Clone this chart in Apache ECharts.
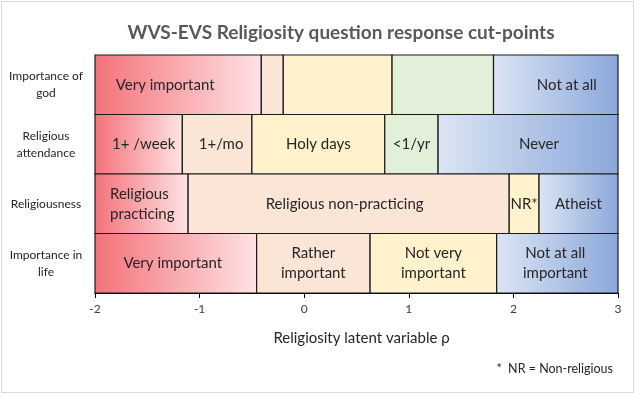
<!DOCTYPE html>
<html>
<head>
<meta charset="utf-8">
<script src="https://cdn.jsdelivr.net/npm/echarts@6/dist/echarts.min.js"></script>
<style>html,body{margin:0;padding:0;background:#fff}#c{width:640px;height:395px}</style>
</head>
<body>
<div id="c"></div>
<script>
// ---- data ----
const rowNames = ['Importance of\ngod', 'Religious\nattendance', 'Religiousness', 'Importance in\nlife'];
const xTicks = [-2, -1, 0, 1, 2, 3];

const cutsGod = [-2, -0.41, -0.20, 0.84, 1.81, 3];
const labelsGod = ['Very important', '', '', '', 'Not at all'];

const cutsAttend = [-2, -1.165, -0.50, 0.77, 1.28, 3];
const labelsAttend = ['1+ /week', '1+/mo', 'Holy days', '<1/yr', 'Never'];

const cutsRelig = [-2, -1.11, 1.96, 2.245, 3];
const labelsRelig = ['Religious\npracticing', 'Religious non-practicing', 'NR*', 'Atheist'];

const cutsLife = [-2, -0.455, 0.63, 1.84, 3];
const labelsLife = ['Very important', 'Rather\nimportant', 'Not very\nimportant', 'Not at all\nimportant'];

// ---- styles (per segment, by row) ----
const fillKinds = [
  ['red', 'peach', 'yellow', 'green', 'blue'],
  ['red', 'peach', 'yellow', 'green', 'blue'],
  ['red', 'peach', 'yellow', 'blue'],
  ['red', 'peach', 'yellow', 'blue']
];
// label horizontal nudge (px) and alignment
const labelDx = [
  [-13, 0, 0, 0, 11],
  [5, 4, 0, 0, 11],
  [15, -4, 0, 0],
  [-3, 0, 0, -2]
];
const labelAlign = [
  ['center', 'center', 'center', 'center', 'center'],
  ['center', 'center', 'center', 'center', 'center'],
  ['left', 'center', 'center', 'center'],
  ['center', 'center', 'center', 'center']
];

const rowsData = [
  [cutsGod, labelsGod],
  [cutsAttend, labelsAttend],
  [cutsRelig, labelsRelig],
  [cutsLife, labelsLife]
];

const segs = [];
rowsData.forEach(function (rd, r) {
  const cuts = rd[0], labels = rd[1];
  for (let i = 0; i < labels.length; i++) {
    segs.push({ value: [cuts[i], cuts[i + 1], r, labels[i]], kind: fillKinds[r][i], dx: labelDx[r][i], al: labelAlign[r][i] });
  }
});
const rowItems = rowNames.map(function (n, i) { return { value: [-2, i, n] }; });

function fillFor(kind) {
  if (kind === 'red') return new echarts.graphic.LinearGradient(0, 0, 1, 0, [
    { offset: 0, color: '#F4727A' }, { offset: 1, color: '#FEE3E4' }]);
  if (kind === 'blue') return new echarts.graphic.LinearGradient(0, 0, 1, 0, [
    { offset: 0, color: '#DCE5F4' }, { offset: 1, color: '#8BA7DA' }]);
  if (kind === 'peach') return '#FBE5D6';
  if (kind === 'yellow') return '#FFF2CC';
  if (kind === 'green') return '#E2F0D9';
  return '#fff';
}

// build centered multi-line text as separate single-line elements
function lineTexts(text, cx, cy, font, lh, align) {
  const lines = text.split('\n');
  const y0 = cy - (lines.length - 1) * lh / 2;
  return lines.map(function (ln, k) {
    return {
      type: 'text', x: cx, y: y0 + k * lh,
      style: { text: ln, font: font, fill: '#262626', align: align, verticalAlign: 'middle' }
    };
  });
}

const chart = echarts.init(document.getElementById('c'), null, { renderer: 'canvas' });
const FONT = 'Lato, "Open Sans", sans-serif';

chart.setOption({
  animation: false,
  backgroundColor: '#fff',
  title: {
    text: 'WVS-EVS Religiosity question response cut-points',
    left: 336, top: 18, textAlign: 'center',
    textStyle: { fontFamily: FONT, fontSize: 19, fontWeight: 'bold', color: '#595959' }
  },
  graphic: [
    { type: 'rect', shape: { x: 1.5, y: 1.5, width: 632, height: 391 }, style: { fill: 'none', stroke: '#d9d9d9', lineWidth: 1 }, silent: true },
    { type: 'text', right: 27, top: 362, style: { text: '*  NR = Non-religious', font: '12.5px ' + FONT, fill: '#262626' } }
  ],
  grid: { left: 95, right: 22, top: 55, bottom: 102 },
  xAxis: {
    type: 'value', min: -2, max: 3, interval: 1,
    axisLine: { show: true, lineStyle: { color: '#000', width: 1 } },
    axisTick: { show: true, length: 5, lineStyle: { color: '#000' } },
    splitLine: { show: false },
    axisLabel: { fontFamily: FONT, fontSize: 12, color: '#404040', margin: 10,
      formatter: function (v) { return xTicks.indexOf(v) >= 0 ? String(v) : ''; } },
    name: 'Religiosity latent variable \u03C1', nameLocation: 'middle', nameGap: 38,
    nameTextStyle: { fontFamily: FONT, fontSize: 15, color: '#262626', padding: [0, 0, 0, 10] }
  },
  yAxis: {
    type: 'category', data: rowNames, inverse: true,
    axisLine: { show: false }, axisTick: { show: false },
    axisLabel: { show: false }
  },
  series: [{
    type: 'custom',
    encode: { x: [0, 1], y: 2 },
    data: segs,
    renderItem: function (params, api) {
      const d = segs[params.dataIndex];
      const p0 = api.coord([api.value(0), api.value(2)]);
      const p1 = api.coord([api.value(1), api.value(2)]);
      const h = api.size([0, 1])[1];
      const w = p1[0] - p0[0];
      const tx = d.al === 'left' ? p0[0] + d.dx : p0[0] + w / 2 + d.dx;
      return {
        type: 'group',
        children: [{
          type: 'rect',
          shape: { x: p0[0], y: p0[1] - h / 2, width: w, height: h },
          style: { fill: fillFor(d.kind), stroke: '#1a1a1a', lineWidth: 1.2 }
        }].concat(lineTexts(d.value[3], tx, p0[1], '15px ' + FONT, 20, d.al))
      };
    }
  }, {
    type: 'custom',
    encode: { x: 0, y: 1 },
    data: rowItems,
    renderItem: function (params, api) {
      const p = api.coord([api.value(0), api.value(1)]);
      return {
        type: 'group',
        children: lineTexts(rowItems[params.dataIndex].value[2], p[0] - 49, p[1], '12px ' + FONT, 17, 'center')
      };
    }
  }]
});
</script>
</body>
</html>
